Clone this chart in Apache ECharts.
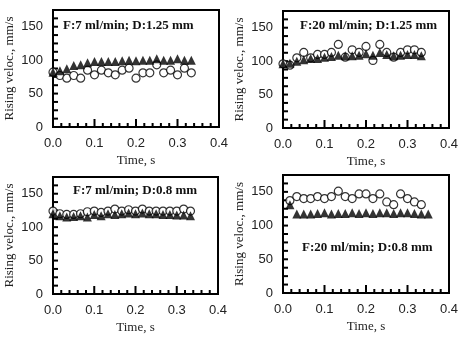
<!DOCTYPE html>
<html><head><meta charset="utf-8">
<script src="https://cdn.jsdelivr.net/npm/echarts@6/dist/echarts.min.js"></script>
<style>html,body{margin:0;padding:0;background:#fff}#c{width:474px;height:338px}</style>
</head><body><div id="c"></div>
<script>
// Time stamps (s), 60 fps
const timesA = [0,0.0167,0.0333,0.05,0.0667,0.0833,0.1,0.1167,0.1333,0.15,0.1667,0.1833,0.2,0.2167,0.2333,0.25,0.2667,0.2833,0.3,0.3167,0.3333];
const timesB = [0.0167,0.0333,0.05,0.0667,0.0833,0.1,0.1167,0.1333,0.15,0.1667,0.1833,0.2,0.2167,0.2333,0.25,0.2667,0.2833,0.3,0.3167,0.3333,0.35];

// Panel 1: F:7 ml/min; D:1.25 mm
const p1Circle   = [82,77,73,77,73,85,78,85,81,78,85,88,73,81,81,93,81,85,78,88,81];
const p1Triangle = [82,84,87,92,93,96,98,98,98,98,99,100,99,100,100,102,100,100,102,100,100];
// Panel 2: F:20 ml/min; D:1.25 mm
const p2Circle   = [96,94,105,113,105,110,110,113,125,106,117,113,122,101,125,113,106,113,117,117,113];
const p2Triangle = [96,97,100,102,104,104,106,107,109,108,108,109,111,109,113,110,108,109,110,110,108];
// Panel 3: F:7 ml/min; D:0.8 mm
const p3Circle   = [124,120,119,119,120,123,124,122,124,127,124,126,124,127,124,124,124,124,124,127,124];
const p3Triangle = [120,117,115,116,117,115,119,117,120,119,120,121,120,121,120,120,119,119,118,118,117];
// Panel 4: F:20 ml/min; D:0.8 mm
const p4Circle   = [137,143,140,140,143,140,143,151,143,140,147,147,140,147,135,131,147,140,135,131];
const p4Triangle = [131,117,117,117,118,119,117,118,118,119,118,119,118,119,119,118,119,119,118,117,117];

const panelLabels = ['F:7 ml/min; D:1.25 mm','F:20 ml/min; D:1.25 mm','F:7 ml/min; D:0.8 mm','F:20 ml/min; D:0.8 mm'];
// Tick values
const xTicks = [0,0.1,0.2,0.3,0.4];
const xMajorInner = [0.1,0.2,0.3];
const xMinorTicks = [0.02,0.04,0.06,0.08,0.12,0.14,0.16,0.18,0.22,0.24,0.26,0.28,0.32,0.34,0.36,0.38];
const yTicks = [0,50,100,150];
const yMinorTicks = [12.5,25,37.5,50,62.5,75,87.5,100,112.5,125,137.5,150,162.5];

const pair = (t, v) => v.map((y, i) => [t[i], y]);

const grids = [
  {left:53, top:10, width:166, height:117},
  {left:283, top:11, width:166, height:117},
  {left:53, top:177, width:165, height:117},
  {left:283, top:175, width:166, height:118}
];
const seriesData = [
  [pair(timesA,p1Circle), pair(timesA,p1Triangle)],
  [pair(timesA,p2Circle), pair(timesA,p2Triangle)],
  [pair(timesA,p3Circle), pair(timesA,p3Triangle)],
  [pair(timesB,p4Circle), pair(timesB,p4Triangle)]
];
const labelPos = [[63,19],[300,19],[73,184],[302,241]];

// tick data: [x, y, kind] kind 0 = x major, 1 = x minor, 2 = y tick
const tickData = [].concat(
  xMajorInner.map(v => [v, 0, 0]),
  xMinorTicks.map(v => [v, 0, 1]),
  yMinorTicks.map(v => [0, v, 2])
);
const tickLen = [8, 4, 5];

function renderTick(params, api) {
  const kind = api.value(2);
  const p = api.coord([api.value(0), api.value(1)]);
  const L = tickLen[kind];
  const shape = kind === 2
    ? {x1:p[0], y1:p[1], x2:p[0] + L, y2:p[1]}
    : {x1:p[0], y1:p[1], x2:p[0], y2:p[1] - L};
  return {type:'line', shape:shape, style:{stroke:'#000', lineWidth:2}};
}

const option = {
  animation:false,
  textStyle:{fontFamily:'Liberation Serif', fontSize:13, color:'#222'},
  title: panelLabels.map((s,i) => ({
    text:s, left:labelPos[i][0], top:labelPos[i][1], padding:0,
    textStyle:{fontFamily:'Liberation Serif', fontSize:13, fontWeight:'bold', color:'#111'}
  })),
  grid: grids.map(g => Object.assign({show:true, borderColor:'#000', borderWidth:2, backgroundColor:'transparent'}, g)),
  xAxis: grids.map((g,i) => ({
    gridIndex:i, type:'value', min:0, max:0.4, interval:0.1,
    name:'Time, s', nameLocation:'middle', nameGap:27,
    axisLine:{show:true, lineStyle:{color:'#000', width:2}},
    axisTick:{show:false},
    splitLine:{show:false},
    axisLabel:{margin:10, fontFamily:'Liberation Sans', fontSize:13, color:'#222',
      formatter:v => xTicks.some(t=>Math.abs(t-v)<1e-9) ? v.toFixed(1) : ''}
  })),
  yAxis: grids.map((g,i) => ({
    gridIndex:i, type:'value', min:0, max:175, interval:12.5,
    name:'Rising veloc., mm/s', nameLocation:'middle', nameGap:37,
    axisLine:{show:true, lineStyle:{color:'#000', width:2}},
    axisTick:{show:false},
    splitLine:{show:false},
    axisLabel:{interval:0, margin:10, fontFamily:'Liberation Sans', fontSize:13, color:'#222',
      formatter:v => yTicks.indexOf(v) >= 0 ? String(v) : ''}
  })),
  series: [].concat(...seriesData.map((d,i) => [
    {type:'custom', xAxisIndex:i, yAxisIndex:i, data:tickData, renderItem:renderTick, silent:true, clip:false,
     encode:{x:0, y:1}},
    {type:'scatter', xAxisIndex:i, yAxisIndex:i, data:d[0], symbol:'circle', symbolSize:8,
     itemStyle:{color:'#fff', borderColor:'#000', borderWidth:1.2}},
    {type:'scatter', xAxisIndex:i, yAxisIndex:i, data:d[1], symbol:'triangle', symbolSize:9,
     itemStyle:{color:'#000'}}
  ]))
};
const chart = echarts.init(document.getElementById('c'));
chart.setOption(option);
</script>
</body></html>
